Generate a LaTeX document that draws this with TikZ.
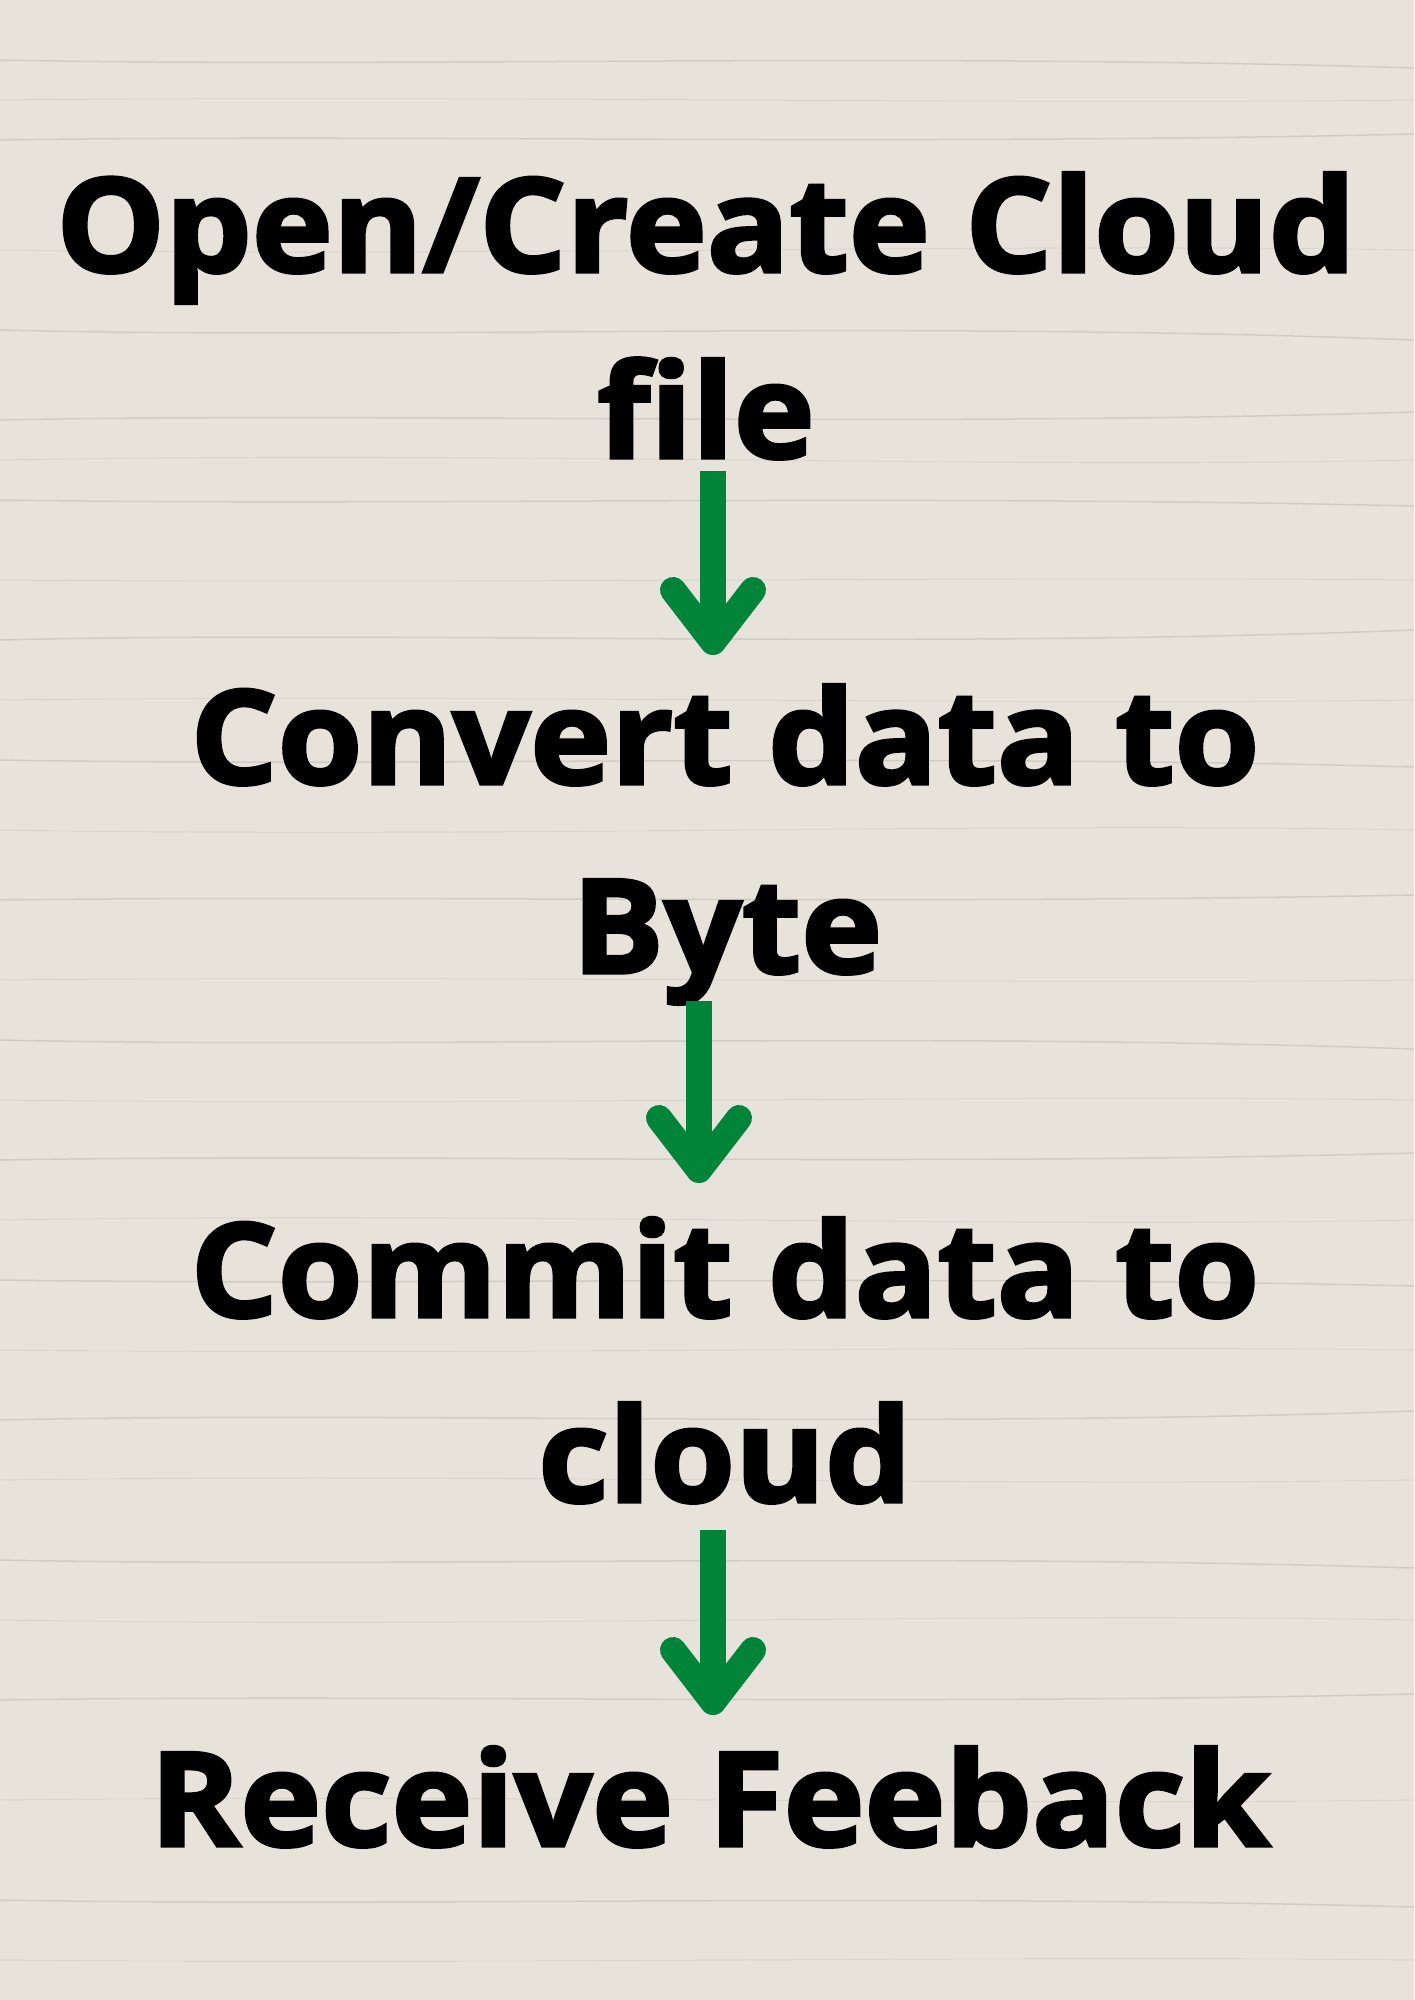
\documentclass[tikz,border=0pt]{standalone}
\usepackage{fontspec}
\setmainfont{Open Sans}[BoldFeatures={FakeBold=2.5,FakeStretch=1.045}]
\definecolor{wood}{HTML}{E7E3DB}
\definecolor{grain}{HTML}{A8A297}
\definecolor{arrowgreen}{HTML}{00843A}
\begin{document}
\begin{tikzpicture}[x=1pt,y=-1pt,
  steptext/.style={font=\fontsize{131}{150}\selectfont\bfseries, text=black, inner sep=0pt, anchor=base},
  shaft/.style={draw=arrowgreen, line width=26pt, line cap=butt},
  head/.style={draw=arrowgreen, line width=26pt, line cap=round, line join=round},
  grainline/.style={draw=grain, line width=1.5pt, opacity=0.35}
]
\useasboundingbox (0,0) rectangle (1414,2000);
\fill[wood] (0,0) rectangle (1414,2000);
% faint wood grain
\foreach \yy/\a in {60/8,140/-6,330/10,420/-8,500/6,640/-10,760/7,900/-5,1040/9,1160/-7,1280/6,1420/-9,1560/8,1700/-6,1900/7} {
  \draw[grainline] (0,\yy) .. controls (400,\yy+\a) and (900,\yy-\a) .. (1414,\yy+\a);
}
\foreach \yy/\a in {100/5,250/-7,460/9,580/-4,700/6,830/-8,980/5,1100/-6,1220/8,1350/-5,1480/7,1620/-8,1800/6,1960/-5} {
  \draw[grainline, opacity=0.2, line width=1pt] (0,\yy) .. controls (500,\yy-\a) and (1000,\yy+\a) .. (1414,\yy);
}
% texts
\node[steptext] (s1a) at (706,272) {Open/Create Cloud};
\node[steptext] (s1b) at (706,458) {file};
\node[steptext] (s2a) at (725,784) {Convert data to};
\node[steptext] (s2b) at (727,973) {Byte};
\node[steptext] (s3a) at (725,1317) {Commit data to};
\node[steptext] (s3b) at (725,1502) {cloud};
\node[steptext] (s4) at (710,1846) {Receive Feeback};
% arrow coordinates
\coordinate (a1s) at (713,471); \coordinate (a1t) at (713,642);
\coordinate (a2s) at (699,1001); \coordinate (a2t) at (699,1170);
\coordinate (a3s) at (713,1530); \coordinate (a3t) at (713,1702);
\foreach \n in {1,2,3} {
  \draw[shaft] (a\n s) -- ([shift={(0,-20)}]a\n t);
  \draw[head] ([shift={(-40,-52)}]a\n t) -- (a\n t) -- ([shift={(40,-52)}]a\n t);
}
\end{tikzpicture}
\end{document}
